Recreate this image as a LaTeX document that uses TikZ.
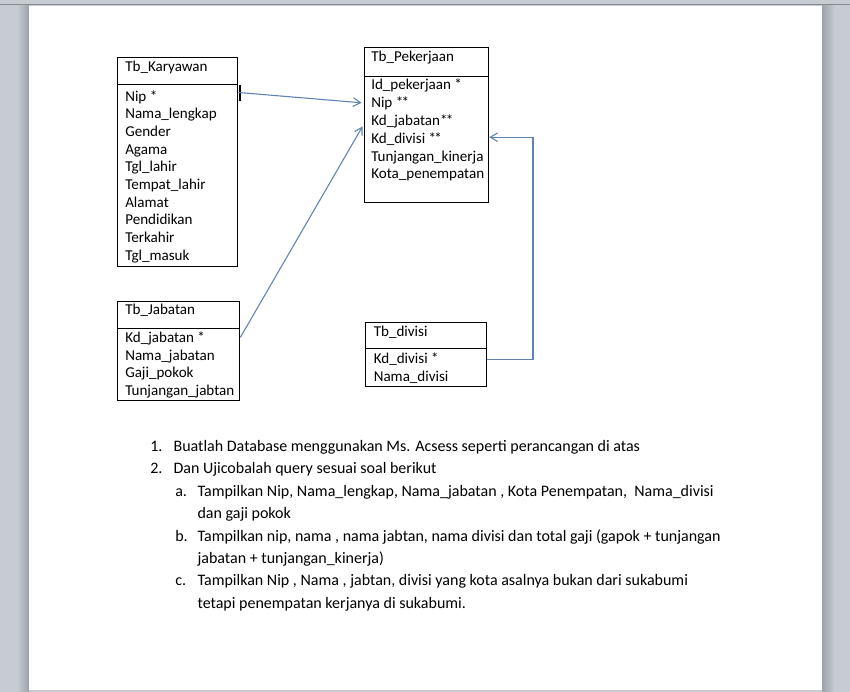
\documentclass[tikz,border=0pt]{standalone}
\usepackage{fontspec}
\setmainfont{Carlito}
\usetikzlibrary{arrows.meta}
\definecolor{latar}{RGB}{199,203,210}
\definecolor{bayang}{RGB}{158,162,170}
\definecolor{biru}{RGB}{96,130,176}
\begin{document}
\begin{tikzpicture}[x=.75pt,y=-.75pt,
		tabel/.style={draw,line width=.75pt,anchor=north west,inner sep=0},
		teks/.style={anchor=west,inner sep=0,text height=7.5pt,text depth=2.5pt,font=\fontsize{11.3pt}{13pt}\selectfont},
		soal/.style={teks,font=\fontsize{12pt}{14pt}\selectfont},
		relasi/.style={draw=biru,line width=.8pt,-{Straight Barb[length=5.5pt,width=6.5pt]}}]
	\useasboundingbox (0,0) rectangle (850,692);
	%dua bintang
	\def\bb{*\kern-1.3pt*}
	%Latar jendela
	\fill[latar] (0,0) rectangle (850,692);
	\shade[left color=latar,right color=bayang] (17,6) rectangle (29,692);
	\shade[left color=bayang,right color=latar] (822,6) rectangle (835,692);
	\fill[bayang!85!black] (0,4) rectangle (850,5.5);
	%Halaman
	\fill[white] (29,6) rectangle (822,690);
	
	%Tb_Karyawan
	\node[tabel,minimum width=120*.75pt,minimum height=208.2*.75pt] (kar) at (117.3,57.3) {};
	\draw[line width=.75pt] (117.3,84.3)--(237.3,84.3);
	\node[teks] (karJ) at (125,68) {Tb\_Karyawan};
	\foreach \isi [count=\i from 0] in {Nip *,Nama\_lengkap,Gender,Agama,Tgl\_lahir,Tempat\_lahir,Alamat,Pendidikan,Terkahir,Tgl\_masuk}
		\node[teks] (kar\i) at (125,97.8+17.67*\i) {\isi};
	\draw[line width=1.5pt] (240,85.3)--(240,100.7);
	
	%Tb_Pekerjaan
	\node[tabel,minimum width=124.8*.75pt,minimum height=154.4*.75pt] (pek) at (363.5,47.3) {};
	\draw[line width=.75pt] (363.5,76.7)--(488.3,76.7);
	\node[teks] (pekJ) at (371,58.5) {Tb\_Pekerjaan};
	\foreach \isi [count=\i from 0] in {Id\_pekerjaan *,Nip \bb,Kd\_jabatan\bb,Kd\_divisi \bb,Tunjangan\_kinerja,Kota\_penempatan}
		\node[teks] (pek\i) at (371,86.5+17.8*\i) {\isi};
	
	%Tb_Jabatan
	\node[tabel,minimum width=122*.75pt,minimum height=99.3*.75pt] (jab) at (117.3,300.7) {};
	\draw[line width=.75pt] (117.3,328.3)--(239.3,328.3);
	\node[teks] (jabJ) at (125,311.5) {Tb\_Jabatan};
	\foreach \isi [count=\i from 0] in {Kd\_jabatan *,Nama\_jabatan,Gaji\_pokok,Tunjangan\_jabtan}
		\node[teks] (jab\i) at (125,338.8+17.9*\i) {\isi};
	
	%Tb_divisi
	\node[tabel,minimum width=120.7*.75pt,minimum height=64.3*.75pt] (div) at (365.3,321.7) {};
	\draw[line width=.75pt] (365.3,348.3)--(486,348.3);
	\node[teks] (divJ) at (373.5,333.2) {Tb\_divisi};
	\foreach \isi [count=\i from 0] in {Kd\_divisi *,Nama\_divisi}
		\node[teks] (div\i) at (373.5,360.2+18*\i) {\isi};
	
	%Relasi
	\draw[relasi,shorten >=1.5pt] ([yshift=4pt]kar.east |- kar0) -- ([yshift=1pt]pek.west |- pek1);
	\draw[relasi,shorten >=1.5pt] ([yshift=1pt]jab.east |- jab0) -- ([yshift=-2pt]pek.west |- pek2);
	\draw[relasi] ([yshift=.5pt]div.east |- div0) -- ++(46,0) |- ([yshift=2pt]pek.east |- pek3);
	
	%Soal
	\node[soal] (no1) at (150,448) {1.};
	\node[soal] (soal1) at (173.3,448) {Buatlah Database menggunakan Ms. Acsess seperti perancangan di atas};
	\node[soal] (no2) at (150,470.5) {2.};
	\node[soal] (soal2) at (173.3,470.5) {Dan Ujicobalah query sesuai soal berikut};
	\node[soal] (hurufa) at (175,493) {a.};
	\node[soal] (soala) at (197.3,493) {Tampilkan Nip, Nama\_lengkap, Nama\_jabatan , Kota Penempatan,\ \ Nama\_divisi};
	\node[soal] (soala2) at (197.3,515.3) {dan gaji pokok};
	\node[soal] (hurufb) at (175,537.7) {b.};
	\node[soal] (soalb) at (197.3,537.7) {Tampilkan nip, nama , nama jabtan, nama divisi dan total gaji (gapok + tunjangan};
	\node[soal] (soalb2) at (197.3,560) {jabatan + tunjangan\_kinerja)};
	\node[soal] (hurufc) at (175,582.5) {c.};
	\node[soal] (soalc) at (197.3,582.5) {Tampilkan Nip , Nama , jabtan, divisi yang kota asalnya bukan dari sukabumi};
	\node[soal] (soalc2) at (197.3,604.8) {tetapi penempatan kerjanya di sukabumi.};
\end{tikzpicture}
\end{document}
